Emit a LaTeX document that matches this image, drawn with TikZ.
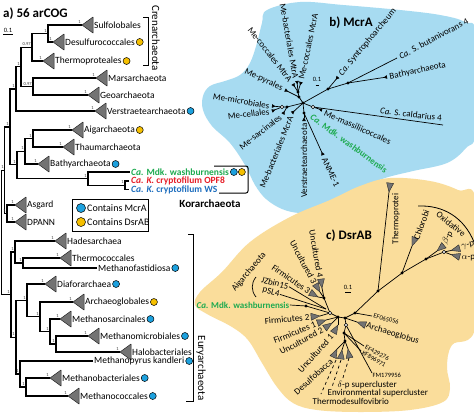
\documentclass[tikz,border=0pt]{standalone}
\usepackage{fontspec}
\setmainfont{Carlito}
\usetikzlibrary{arrows.meta}
\definecolor{blobblue}{RGB}{167,219,241}
\definecolor{bloborange}{RGB}{250,221,155}
\definecolor{mcrblue}{RGB}{29,161,222}
\definecolor{dsryel}{RGB}{246,192,0}
\definecolor{trigray}{RGB}{115,115,115}
\definecolor{mdkgreen}{RGB}{30,170,80}
\definecolor{opfred}{RGB}{230,30,40}
\definecolor{wsblue}{RGB}{30,110,190}
\newcommand\ctri[2]{\draw[tri] (#1,#2) -- ++(11,-8) -- ++(0,16) -- cycle;}
\newcommand\tnode[5]{\draw[br] (#3,#2) -- (#1,#2) -- (#1,#4) -- (#5,#4);}
\newcommand\dtri[3]{\draw[dtri,shift={(#1,#2)},rotate=#3] (0,0) -- (9,-3.5) -- (9,3.5) -- cycle;}
\newcommand\bsv[3]{\node[bs] at (#1,#2) {#3};}
\begin{document}
\begin{tikzpicture}[x=1pt,y=-1pt,
  br/.style={line width=1.1pt},
  tri/.style={fill=trigray,draw=black!85,line width=0.5pt,line join=round},
  lab/.style={font=\fontsize{9.5}{10}\selectfont,inner sep=0pt,anchor=west},
  blab/.style={font=\fontsize{9.5}{10}\selectfont\bfseries,inner sep=0pt,anchor=west},
  bs/.style={font=\fontsize{4.5}{5}\selectfont,inner sep=0.2pt,anchor=south east,text=black!80},
  mdot/.style={circle,fill=mcrblue,draw=black,line width=0.5pt,minimum size=7pt,inner sep=0pt,anchor=west},
  ydot/.style={circle,fill=dsryel,draw=black,line width=0.5pt,minimum size=7pt,inner sep=0pt,anchor=west},
  mline/.style={line width=0.7pt},
  mtip/.style={mline,-{Triangle[reversed,length=3.5pt,width=3.5pt]}},
  fdot/.style={circle,fill=black,inner sep=0pt,minimum size=3.4pt},
  odot/.style={circle,fill=white,draw=black,line width=0.5pt,inner sep=0pt,minimum size=3.4pt},
  tlab/.style={font=\fontsize{9}{9}\selectfont,inner sep=0.5pt},
  slab/.style={font=\fontsize{6.5}{7}\selectfont,inner sep=0.5pt},
  dtri/.style={fill=trigray,draw=black!85,line width=0.4pt,line join=round},
  title/.style={font=\fontsize{13}{13}\selectfont\bfseries,inner sep=0pt},
  scl/.style={font=\fontsize{6.5}{7}\selectfont,inner sep=0pt},
]
\useasboundingbox (0,0) rectangle (474,413);
\fill[white] (0,0) rectangle (474,413);

% ---------- blobs ----------
\fill[blobblue] plot[smooth cycle,tension=0.6] coordinates {(267,10) (300,2) (343,5) (400,10) (440,15) (465,22) (476,35) (476,130) (466,148) (447,163) (413,171) (385,178) (360,188) (338,200) (318,210) (300,213) (282,209) (266,199) (255,185) (245,165) (230,143) (212,126) (203,110) (203,96) (210,86) (225,81) (240,75) (250,63) (257,43) (262,23)};
\fill[bloborange] plot[smooth cycle,tension=0.6] coordinates {(390,178) (430,181) (458,190) (476,202) (476,325) (452,345) (447,367) (450,388) (443,402) (410,410) (360,412) (317,410) (293,403) (277,387) (262,363) (248,340) (232,327) (207,314) (195,305) (200,292) (222,272) (250,242) (290,217) (330,200) (360,186)};

% ---------- panel a ----------
\node[title,anchor=west] (ta) at (3,14) {a) 56 arCOG};
\node[scl] (sa) at (8,30) {0.1};
\draw[line width=0.6pt] (3,34.5) -- (13,34.5);

\ctri{82}{25} \ctri{53}{42} \ctri{43}{61} \ctri{96}{78} \ctri{88}{95} \ctri{95}{111}
\ctri{72}{130} \ctri{63}{147} \ctri{38}{164} \ctri{15}{205} \ctri{15}{222}
\ctri{55}{241} \ctri{60}{258} \ctri{45}{284} \ctri{73}{302} \ctri{60}{319}
\ctri{88}{336} \ctri{120}{352} \ctri{50}{378} \ctri{68}{396}

\tnode{48}{25}{82}{42}{53}
\tnode{32}{33.5}{48}{61}{43}
\tnode{33}{78}{96}{95}{88}
\tnode{21}{47.25}{32}{86.5}{33}
\tnode{16}{66.9}{21}{111}{95}
\tnode{33}{130}{72}{147}{63}
\tnode{25}{138.5}{33}{164}{38}
\tnode{125}{181}{129}{189.5}{129}
\tnode{88}{172}{130}{185.25}{125}
\tnode{17}{151.25}{25}{178.6}{88}
\tnode{10}{89}{16}{164.9}{17}
\tnode{7}{205}{15}{222}{15}
\tnode{4.5}{127}{10}{213.5}{7}
\tnode{23}{258}{60}{268}{97}
\tnode{15}{241}{55}{263}{23}
\tnode{56}{336}{88}{352}{120}
\tnode{50}{319}{60}{344}{56}
\tnode{40}{302}{73}{331.5}{50}
\tnode{27}{284}{45}{316.75}{40}
\tnode{26}{378}{50}{396}{68}
\tnode{20}{361}{93}{387}{26}
\tnode{16}{300.4}{27}{374}{20}
\tnode{11}{252}{15}{337.2}{16}
\tnode{1.5}{170.2}{4.5}{294.6}{11}

% bootstrap values
\bsv{81}{24}{1} \bsv{52}{41}{1} \bsv{42}{60}{1} \bsv{95}{77}{1} \bsv{87}{94}{1} \bsv{94}{110}{1}
\bsv{71}{129}{1} \bsv{62}{146}{1} \bsv{37}{163}{1} \bsv{14}{204}{1} \bsv{14}{221}{1}
\bsv{54}{240}{1} \bsv{59}{257}{1} \bsv{44}{283}{1} \bsv{72}{301}{1} \bsv{59}{318}{1}
\bsv{87}{335}{1} \bsv{119}{351}{1} \bsv{49}{377}{1} \bsv{67}{395}{1}
\bsv{47}{32.5}{1} \bsv{31}{46.2}{0.97} \bsv{32}{85.5}{0.97} \bsv{20}{66}{1} \bsv{15}{88}{1}
\bsv{32}{137.5}{1} \bsv{24}{150.2}{1} \bsv{87}{177.6}{1} \bsv{124}{184.3}{1} \bsv{16}{163.9}{1}
\bsv{9}{126}{1} \bsv{6}{212.5}{1} \bsv{4}{169.2}{1} \bsv{22}{262}{1} \bsv{14}{251}{1}
\bsv{26}{299.4}{1} \bsv{39}{315.8}{1} \bsv{49}{330.5}{1} \bsv{55}{343}{1} \bsv{25}{386}{1}
\bsv{19}{373}{1} \bsv{15}{336.2}{1} \bsv{10}{293.6}{1}

% tip labels
\node[lab] (lSul) at (94,25) {Sulfolobales};
\node[lab] (lDes) at (65,42) {Desulfurococcales};
\node[ydot] at ([xshift=1pt]lDes.east) {};
\node[lab] (lThp) at (55,61) {Thermoproteales};
\node[ydot] at ([xshift=1pt]lThp.east) {};
\node[lab] (lMar) at (108,78) {Marsarchaeota};
\node[lab] (lGeo) at (100,95) {Geoarchaeota};
\node[lab] (lVer) at (107,111) {Verstraetearchaeota};
\node[mdot] at ([xshift=1pt]lVer.east) {};
\node[lab] (lAig) at (84,130) {Aigarchaeota};
\node[ydot] at ([xshift=1pt]lAig.east) {};
\node[lab] (lTha) at (75,147) {Thaumarchaeota};
\node[lab] (lBat) at (50,164) {Bathyarchaeota};
\node[mdot] at ([xshift=1pt]lBat.east) {};
\node[blab,text=mdkgreen] (lMdk) at (131,172) {\textit{Ca.} Mdk. washburnensis};
\node[mdot] (dm1) at ([xshift=1pt]lMdk.east) {};
\node[ydot] at ([xshift=0.5pt]dm1.east) {};
\node[blab,text=opfred] (lOPF) at (131,181) {\textit{Ca. K.} cryptofilum OPF8};
\node[blab,text=wsblue] (lWS) at (131,189.5) {\textit{Ca. K.} cryptofilum WS};
\draw[line width=1pt,rounded corners=2pt] (214,166) -- (248,166) -- (248,193) -- (219,193);
\node[font=\fontsize{11}{11}\selectfont\bfseries,inner sep=0pt] (lKor) at (210,204) {Korarchaeota};
\node[lab] (lAsg) at (27,205) {Asgard};
\node[lab] (lDPA) at (27,222) {DPANN};
\node[lab] (lHad) at (67,241) {Hadesarchaea};
\node[lab] (lTcc) at (72,258) {Thermococcales};
\node[lab] (lMfa) at (98,268) {Methanofastidiosa};
\node[mdot] at ([xshift=1pt]lMfa.east) {};
\node[lab] (lDia) at (57,284) {Diaforarchaea};
\node[mdot] at ([xshift=1pt]lDia.east) {};
\node[lab] (lArc) at (85,302) {Archaeoglobales};
\node[ydot] at ([xshift=1pt]lArc.east) {};
\node[lab] (lMsa) at (72,319) {Methanosarcinales};
\node[mdot] at ([xshift=1pt]lMsa.east) {};
\node[lab] (lMmi) at (100,336) {Methanomicrobiales};
\node[mdot] at ([xshift=1pt]lMmi.east) {};
\node[lab] (lHal) at (132,352) {Halobacteriales};
\node[lab] (lMpy) at (94,361) {Methanopyrus kandleri};
\node[mdot] at ([xshift=1pt]lMpy.east) {};
\node[lab] (lMba) at (62,378) {Methanobacteriales};
\node[mdot] at ([xshift=1pt]lMba.east) {};
\node[lab] (lMco) at (80,396) {Methanococcales};
\node[mdot] at ([xshift=1pt]lMco.east) {};

% brackets
\draw[line width=0.8pt] (143,17) -- (148,17) -- (148,65) -- (143,65);
\node[font=\fontsize{11}{11}\selectfont,inner sep=0pt,rotate=-90] (lCren) at (156,38) {Crenarchaeota};
\draw[line width=0.8pt] (188,234) -- (193,234) -- (193,401) -- (186,401);
\node[font=\fontsize{11}{11}\selectfont,inner sep=0pt,rotate=-90] (lEury) at (201,368) {Euryarchaeota};

% legend
\draw[line width=0.8pt] (72,199) rectangle (148,231);
\node[circle,fill=mcrblue,draw=black,line width=0.5pt,minimum size=9pt,inner sep=0pt] (lgm) at (81,208) {};
\node[circle,fill=dsryel,draw=black,line width=0.5pt,minimum size=9pt,inner sep=0pt] (lgy) at (81,222) {};
\node[font=\fontsize{10}{10}\selectfont,inner sep=0pt,anchor=west] (lgt1) at (87,208) {Contains McrA};
\node[font=\fontsize{10}{10}\selectfont,inner sep=0pt,anchor=west] (lgt2) at (87,222) {Contains DsrAB};

% ---------- panel b ----------
\node[title] (tb) at (351,23) {b) McrA};
\node[scl] (sb) at (317,79) {0.1};
\draw[line width=0.6pt] (315.5,85) -- (318.5,85);
\coordinate (H) at (303,103);
\coordinate (m1) at (299,97);
\coordinate (m2) at (298,92);
\coordinate (f1) at (287,107);
\coordinate (o1) at (282,107);
\coordinate (f2) at (304,113);
\coordinate (o2) at (313,107);
\coordinate (f3) at (328,89);
\coordinate (f4) at (348,83);
\draw[mline] (H) -- (m1) -- (m2);
\draw[mtip] (m2) -- (293,84);
\draw[mtip] (m2) -- (297,81);
\draw[mtip] (m2) -- (301,82);
\draw[mtip] (m1) -- (285,90);
\draw[mline] (H) -- (f1) -- (o1);
\draw[mtip] (o1) -- (272,106);
\draw[mtip] (o1) -- (272,111);
\draw[mtip] (f1) -- (283,114);
\draw[mtip] (H) -- (292,113);
\draw[mline] (H) -- (f2);
\draw[mtip] (f2) -- (304,121);
\draw[mtip] (f2) -- (323,155);
\draw[mline] (H) -- (o2);
\draw[mtip] (o2) -- (322,110);
\draw[mline] (o2) -- (443,125);
\draw[mline] (H) -- (f3) -- (f4);
\draw[mtip] (f3) -- (338,77);
\draw[mtip] (f4) -- (387,77);
\draw[mline] (f4) -- (397,58);
\foreach \p in {H,m1,m2,f1,f2,f3,f4} \node[fdot] at (\p) {};
\foreach \p in {o1,o2} \node[odot] at (\p) {};
\node[tlab,anchor=east,rotate=-80] (bl1) at (296,79) {Me-bacteriales MtrA};
\node[tlab,anchor=east,rotate=-52] (bl2) at (291,81) {Me-coccales MtrA};
\node[tlab,anchor=west,rotate=78] (bl3) at (301,80) {Me-coccales McrA};
\node[tlab,anchor=east,rotate=-25] (bl4) at (283,89) {Me-pyrales};
\node[tlab,anchor=east,rotate=-10] (bl5) at (270,106) {Me-microbiales};
\node[tlab,anchor=east,rotate=7] (bl6) at (270,111.5) {Me-cellales};
\node[tlab,anchor=east,rotate=38] (bl7) at (281,116) {Me-sarcinales};
\node[tlab,anchor=east,rotate=68] (bl8) at (291,116) {Me-bacteriales McrA};
\node[tlab,anchor=east,rotate=90] (bl9) at (304,123) {Verstraetearchaeota};
\node[tlab,anchor=west,rotate=-65] (bl10) at (324,158) {ANME-1};
\node[tlab,anchor=west,rotate=-36,text=mdkgreen,font=\fontsize{9}{9}\selectfont\bfseries] (bl11) at (311,116) {\textit{Ca.} Mdk. washburnensis};
\node[tlab,anchor=west,rotate=-24] (bl12) at (324,112) {Me-massiliicoccales};
\node[tlab,anchor=south east,rotate=-7] (bl13) at (442,122) {\textit{Ca.} S. caldarius 4};
\node[tlab,anchor=west,rotate=12] (bl14) at (389,77) {Bathyarchaeota};
\node[tlab,anchor=west,rotate=28] (bl15) at (399,57) {\textit{Ca.} S. butanivorans 4};
\node[tlab,anchor=west,rotate=50] (bl16) at (340,75) {\textit{Ca.} Syntrophoarcheum};

% ---------- panel c ----------
\node[title] (tc) at (349,236) {c) DsrAB};
\node[scl] (sc) at (348,287) {0.1};
\draw[line width=0.6pt] (345,292) -- (351,292);
\coordinate (c0) at (345,318);
\coordinate (c1) at (355,313);
\coordinate (d1) at (378,291);
\coordinate (d2) at (402,273);
\coordinate (d3) at (426,259);
\coordinate (o3) at (444,252);
\coordinate (c5) at (338,317);
\coordinate (o4) at (330,313);
\coordinate (w1) at (306,306);
\coordinate (nU) at (324,298);
\coordinate (l1) at (346,325);
\coordinate (l2) at (344,333);
\coordinate (l3) at (345,341);
\draw[mline] (c0) -- (c1) -- (d1) -- (d2) -- (d3) -- (o3);
\draw[mline] (d1) -- (389,192); \dtri{389}{192}{83}
\draw[mline] (d2) -- (412,246); \dtri{412}{246}{69}
\draw[mline] (d3) -- (437,251); \dtri{437}{251}{40}
\draw[mline] (o3) -- (451,250.5); \dtri{451}{250.5}{15}
\draw[mline] (o3) -- (451,254.5); \dtri{451}{254.5}{-15}
\draw[line width=0.8pt] (418,206) to[bend left=35] (474,242);
\node[tlab,rotate=-38] (cOx) at (451,224) {Oxidative};
\node[tlab,anchor=west,rotate=90] (cThp) at (396,245) {Thermoprotei};
\node[tlab,anchor=west,rotate=70] (cChl) at (416,240) {Chlorobi};
\node[tlab,anchor=west,rotate=60] (cBp) at (444,244) {$\beta$-p};
\node[tlab,anchor=west,rotate=12] (cGp) at (461,247) {$\gamma$-p};
\node[tlab,anchor=west] (cAp) at (461,258) {$\alpha$-p};
% left cluster
\draw[mline] (c0) -- (c5) -- (o4) -- (w1);
\draw[mline] (o4) -- (nU);
\draw[mline] (nU) -- (322,288); \dtri{322}{288}{97}
\draw[mline] (nU) -- (320,292); \dtri{320}{292}{120}
\draw[mline] (nU) -- (318,297); \dtri{318}{297}{150}
\draw[mline] (o4) -- (320,316); \dtri{320}{316}{185}
\draw[mline] (c5) -- (326,320); \dtri{326}{320}{200}
\draw[mline] (c5) -- (332,323); \dtri{332}{323}{215}
\draw[mline] (c5) -- (338,325); \dtri{338}{325}{240}
\node[tlab,anchor=east,rotate=-80] (cU4) at (320.5,278) {Uncultured 4};
\node[tlab,anchor=east,rotate=-62] (cU3) at (315,284) {Uncultured 3};
\node[tlab,anchor=east,rotate=-35] (cF3) at (310,292.5) {Firmicutes 3};
\node[tlab,anchor=east,rotate=5] (cF2) at (310,317) {Firmicutes 2};
\node[tlab,anchor=east,rotate=22] (cF1) at (316,324) {Firmicutes 1};
\node[tlab,anchor=east,rotate=28] (cU2) at (323,329.5) {Uncultured 2};
\node[tlab,anchor=east,rotate=48] (cU1) at (332,335) {Uncultured 1};
\node[tlab,rotate=-15] (cJZ) at (275,283) {JZbin15};
\node[tlab,rotate=-15] (cPS) at (271,292) {pSL4};
\draw[line width=0.7pt] (256,277) to[bend right=40] (256,297);
\draw[mline] (cJZ.east) -- (326,309);
\draw[mline] (cPS.east) -- (326,309);
\node[tlab,rotate=50] (cAig) at (249,272) {Aigarchaeota};
\node[tlab,anchor=west,font=\fontsize{9}{9}\selectfont\bfseries,text=mdkgreen] (cMdk) at (196,305) {\textit{Ca.} Mdk. washburnensis};
\draw[mline] (cMdk.east) -- (w1);
% lower cluster
\draw[mline] (c0) -- (l1) -- (l2) -- (l3);
\draw[mline] (l1) -- (372,373);
\draw[mline] (l2) -- (364,346);
\draw[mline] (l2) -- (361,351);
\draw[mline] (c1) -- (372,316);
\draw[mline] (c0) -- (357,322); \dtri{357}{322}{-20}
\draw[mline] (l3) -- (337,349); \dtri{337}{349}{245}
\draw[mline] (l3) -- (342,350); \dtri{342}{350}{262}
\draw[mline] (l3) -- (348,349); \dtri{348}{349}{280}
\draw[mline,dashed] (336,360) -- (321,394);
\draw[mline,dashed] (341,360) -- (332,387);
\draw[mline,dashed] (349,358) -- (342,381);
\node[tlab,anchor=east,rotate=42] (cDsb) at (332,360) {Desulfobacca};
\node[tlab,anchor=west] (cDp) at (337,385) {$\delta$-p supercluster};
\node[tlab,anchor=west] (cEnv) at (327,393) {Environmental supercluster};
\node[tlab,anchor=west] (cTdv) at (312,401.5) {Thermodesulfovibrio};
\node[slab,anchor=west,rotate=-15] (cE1) at (373,315.5) {EF065056};
\node[tlab,anchor=west,rotate=-17] (cArg) at (366,325.5) {Archaeoglobus};
\node[slab,anchor=west,rotate=-27] (cE2) at (365,346.5) {EF429276};
\node[slab,anchor=west,rotate=-30] (cK) at (362,352) {KF896971};
\node[slab,anchor=west] (cFM) at (372,375) {FM179956};
\foreach \p in {c0,c1,d1,d2,d3,c5,w1,nU,l2,l3} \node[fdot] at (\p) {};
\foreach \p in {o3,o4,l1} \node[odot] at (\p) {};
\end{tikzpicture}
\end{document}
